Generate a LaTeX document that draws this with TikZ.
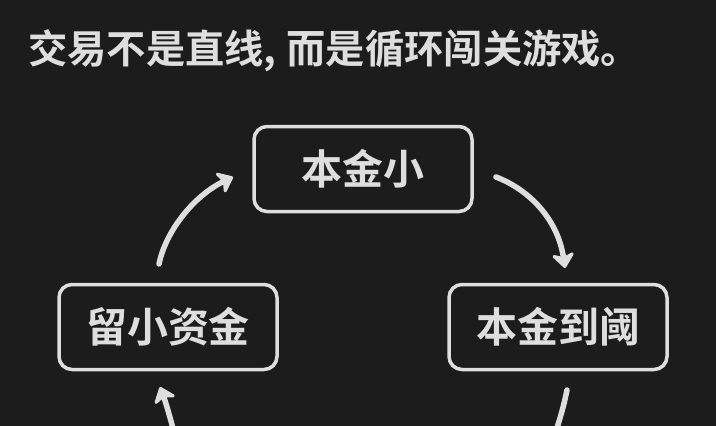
\documentclass[tikz,border=0pt]{standalone}
\usepackage{fontspec}
\newfontfamily\cjk{Noto Sans CJK SC}[BoldFont={Noto Sans CJK SC Bold}]
\usetikzlibrary{arrows.meta}
\definecolor{bg}{HTML}{1C1C1C}
\definecolor{fg}{HTML}{DEDEDE}
\tikzset{
  stagebox/.style={draw=fg, line width=3.5pt, rounded corners=13pt, minimum width=218pt, minimum height=85pt, text=fg, font=\cjk\bfseries\fontsize{41}{44}\selectfont},
  flow/.style={draw=fg, line width=5.5pt, line cap=round, -{Stealth[round, length=17pt, width=27pt, inset=5pt]}},
  flowtail/.style={draw=fg, line width=5.5pt, line cap=round},
  titletext/.style={text=fg, font=\cjk\bfseries\fontsize{39.3}{42}\selectfont, anchor=west, inner sep=0pt}
}
\begin{document}
\begin{tikzpicture}[x=1pt, y=-1pt]
\fill[bg] (0,0) rectangle (716,426);
\useasboundingbox (0,0) rectangle (716,426);
\node[titletext] (title) at (28,51) {交易不是直线,\hspace{0.25em}而是循环闯关游戏。};
\node[stagebox] (top) at (363,169) {本金小};
\node[stagebox] (left) at (168,327) {留小资金};
\node[stagebox] (right) at (558,327) {本金到阈};
\coordinate (a1s) at (159,264);
\coordinate (a1e) at (233,177);
\coordinate (a2s) at (496,177);
\coordinate (a2e) at (565,268);
\coordinate (a3s) at (176,440);
\coordinate (a3e) at (160,387);
\coordinate (a4s) at (567,390);
\coordinate (a4e) at (553,440);
\begin{scope}
\clip (0,0) rectangle (716,426);
\draw[flow] (a1s) .. controls (166,230) and (195,195) .. (a1e);
\draw[flow] (a2s) .. controls (530,190) and (558,220) .. (a2e);
\draw[flow] (a3s) .. controls (171,420) and (165,400) .. (a3e);
\draw[flowtail] (a4s) .. controls (563,410) and (558,425) .. (a4e);
\end{scope}
\end{tikzpicture}
\end{document}
